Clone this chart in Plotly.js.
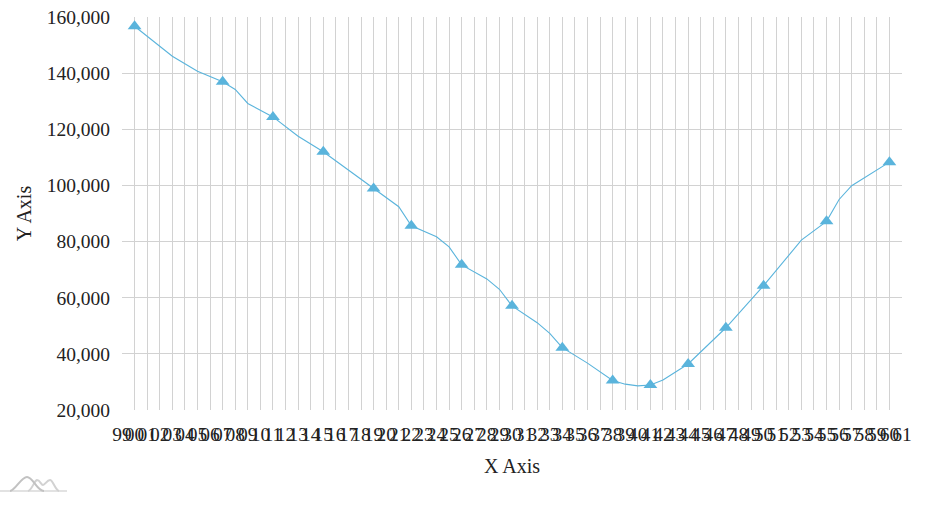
<!DOCTYPE html>
<html>
<head>
<meta charset="utf-8">
<script src="https://cdn.plot.ly/plotly-3.0.1.min.js"></script>
<style>
  html, body { margin: 0; padding: 0; background: #fff; }
  #chart { width: 931px; height: 525px; }
</style>
</head>
<body>
<div id="chart"></div>
<script>
// years on the axis, 1999 .. 2061, labelled with two digits
const axisYears = [];
for (let y = 1999; y <= 2061; y++) axisYears.push(y);
const tickLabels = ['99','00','01','02','03','04','05','06','07','08','09',
  '10','11','12','13','14','15','16','17','18','19','20','21','22','23','24',
  '25','26','27','28','29','30','31','32','33','34','35','36','37','38','39',
  '40','41','42','43','44','45','46','47','48','49','50','51','52','53','54',
  '55','56','57','58','59','60','61'];

// line vertices
const years = [2000, 2003, 2005, 2007, 2008, 2009, 2011, 2013, 2015, 2017,
  2019, 2021, 2022, 2024, 2025, 2026, 2028, 2029, 2030, 2032, 2033, 2034,
  2036, 2037, 2038, 2039, 2040, 2041, 2042, 2044, 2047, 2050, 2053, 2055,
  2056, 2057, 2060];
const values = [156700, 146000, 140700, 136900, 134200, 129200, 124400,
  117500, 112000, 105400, 98900, 92400, 85600, 81700, 78100, 71700, 66700,
  63000, 57100, 51100, 47300, 42200, 36700, 33700, 30500, 29200, 28600,
  28900, 30700, 36400, 49300, 64300, 80500, 87200, 95000, 99900, 108300];

// points that carry a triangle marker
const markerYears = [2000, 2007, 2011, 2015, 2019, 2022, 2026, 2030, 2034,
  2038, 2041, 2044, 2047, 2050, 2055, 2060];
const markerValues = markerYears.map(y => values[years.indexOf(y)]);

const blue = '#5ab4dc';
const font = 'Liberation Serif, Times New Roman, serif';

// small grey logo in the corner
const logo = 'data:image/svg+xml;utf8,' + encodeURIComponent(
  '<svg xmlns="http://www.w3.org/2000/svg" width="70" height="20" viewBox="0 0 70 20">' +
  '<path d="M0 15 L67 15" stroke="#e2e2e2" stroke-width="2" fill="none"/>' +
  '<path d="M28 15 C32 14 34 5 37 4 C40 4 41 9 43 9 C45 9 47 4 50 4 C53 4 55 14 59 15" stroke="#d2d2d2" stroke-width="2" fill="none"/>' +
  '<path d="M10 15 C15 15 21 1 27 1 C33 1 37 15 44 15" stroke="#c2c2c2" stroke-width="2" fill="none"/>' +
  '</svg>');

Plotly.newPlot('chart', [
  {
    x: years,
    y: values,
    type: 'scatter',
    mode: 'lines',
    line: { color: blue, width: 1.1 },
    hoverinfo: 'skip',
  },
  {
    x: markerYears,
    y: markerValues,
    type: 'scatter',
    mode: 'markers',
    marker: { symbol: 'triangle-up', size: 12, color: blue },
  },
], {
  width: 931,
  height: 525,
  margin: { l: 122, r: 29, t: 17, b: 115 },
  showlegend: false,
  paper_bgcolor: '#fff',
  plot_bgcolor: '#fff',
  font: { family: font, color: '#222', size: 19.5 },
  xaxis: {
    range: [1999, 2061],
    tickmode: 'array',
    tickvals: axisYears,
    ticktext: tickLabels,
    tickangle: 0,
    showgrid: true,
    gridcolor: '#d2d2d2',
    gridwidth: 1,
    zeroline: false,
    showline: false,
    ticks: '',
    ticklabelstandoff: 10,
    automargin: false,
    title: { text: 'X Axis', font: { size: 20, family: font, color: '#222' }, standoff: 15 },
  },
  yaxis: {
    range: [20000, 160000],
    tickmode: 'array',
    tickvals: [20000, 40000, 60000, 80000, 100000, 120000, 140000, 160000],
    tickformat: ',d',
    showgrid: true,
    gridcolor: '#d2d2d2',
    gridwidth: 1,
    zeroline: false,
    showline: false,
    ticks: '',
    ticklabelstandoff: 11,
    automargin: false,
    title: { text: 'Y Axis', font: { size: 20, family: font, color: '#222' }, standoff: 9 },
  },
  images: [{
    source: logo,
    xref: 'paper', yref: 'paper',
    x: -122 / 780, y: -(476 - 410) / 393,
    sizex: 70 / 780, sizey: 20 / 393,
    xanchor: 'left', yanchor: 'top',
    sizing: 'stretch',
    layer: 'above',
  }],
}, { displayModeBar: false, staticPlot: true });
</script>
</body>
</html>
